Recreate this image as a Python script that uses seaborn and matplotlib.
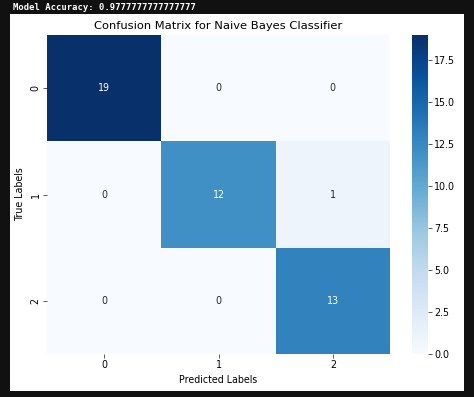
import numpy as np
import matplotlib
matplotlib.use("Agg")
import matplotlib.pyplot as plt
import seaborn as sns
from matplotlib.patches import Rectangle

class_labels = ["0", "1", "2"]
cm_values = [
    [19, 0, 0],
    [0, 12, 1],
    [0, 0, 13],
]
accuracy = 0.9777777777777777

W, H = 474, 397
DPI = 57


def box(x0, y0, x1, y1):
    # pixel box (top-left origin) -> figure fraction
    return [x0 / W, 1 - y1 / H, (x1 - x0) / W, (y1 - y0) / H]


fig = plt.figure(figsize=(W / DPI, H / DPI), dpi=DPI, facecolor="#111111")

# white "window" of the notebook output, kept behind the axes
fig.patches.append(Rectangle((10 / W, 1 - 391 / H), 454 / W, 377 / H,
                             transform=fig.transFigure, facecolor="white",
                             edgecolor="none", zorder=-10))

fig.text(13 / W, 1 - 8 / H, f"Model Accuracy: {accuracy}", color="white",
         family="DejaVu Sans Mono", fontweight="bold", fontsize=11.2,
         va="center", ha="left")

ax = fig.add_axes(box(47, 35, 390, 354))
cax = fig.add_axes(box(412, 35, 428, 354))

sns.heatmap(np.array(cm_values), annot=True, fmt="d", cmap="Blues",
            xticklabels=class_labels, yticklabels=class_labels,
            ax=ax, cbar_ax=cax, annot_kws={"fontsize": 12})

ax.set_title("Confusion Matrix for Naive Bayes Classifier", fontsize=14.5, pad=7)
ax.set_xlabel("Predicted Labels", fontsize=12, labelpad=6)
ax.set_ylabel("True Labels", fontsize=12, labelpad=7)
ax.tick_params(labelsize=12, length=4.5)
cax.tick_params(labelsize=12, length=4.5)

fig.savefig("out.png", dpi=DPI, facecolor=fig.get_facecolor())
